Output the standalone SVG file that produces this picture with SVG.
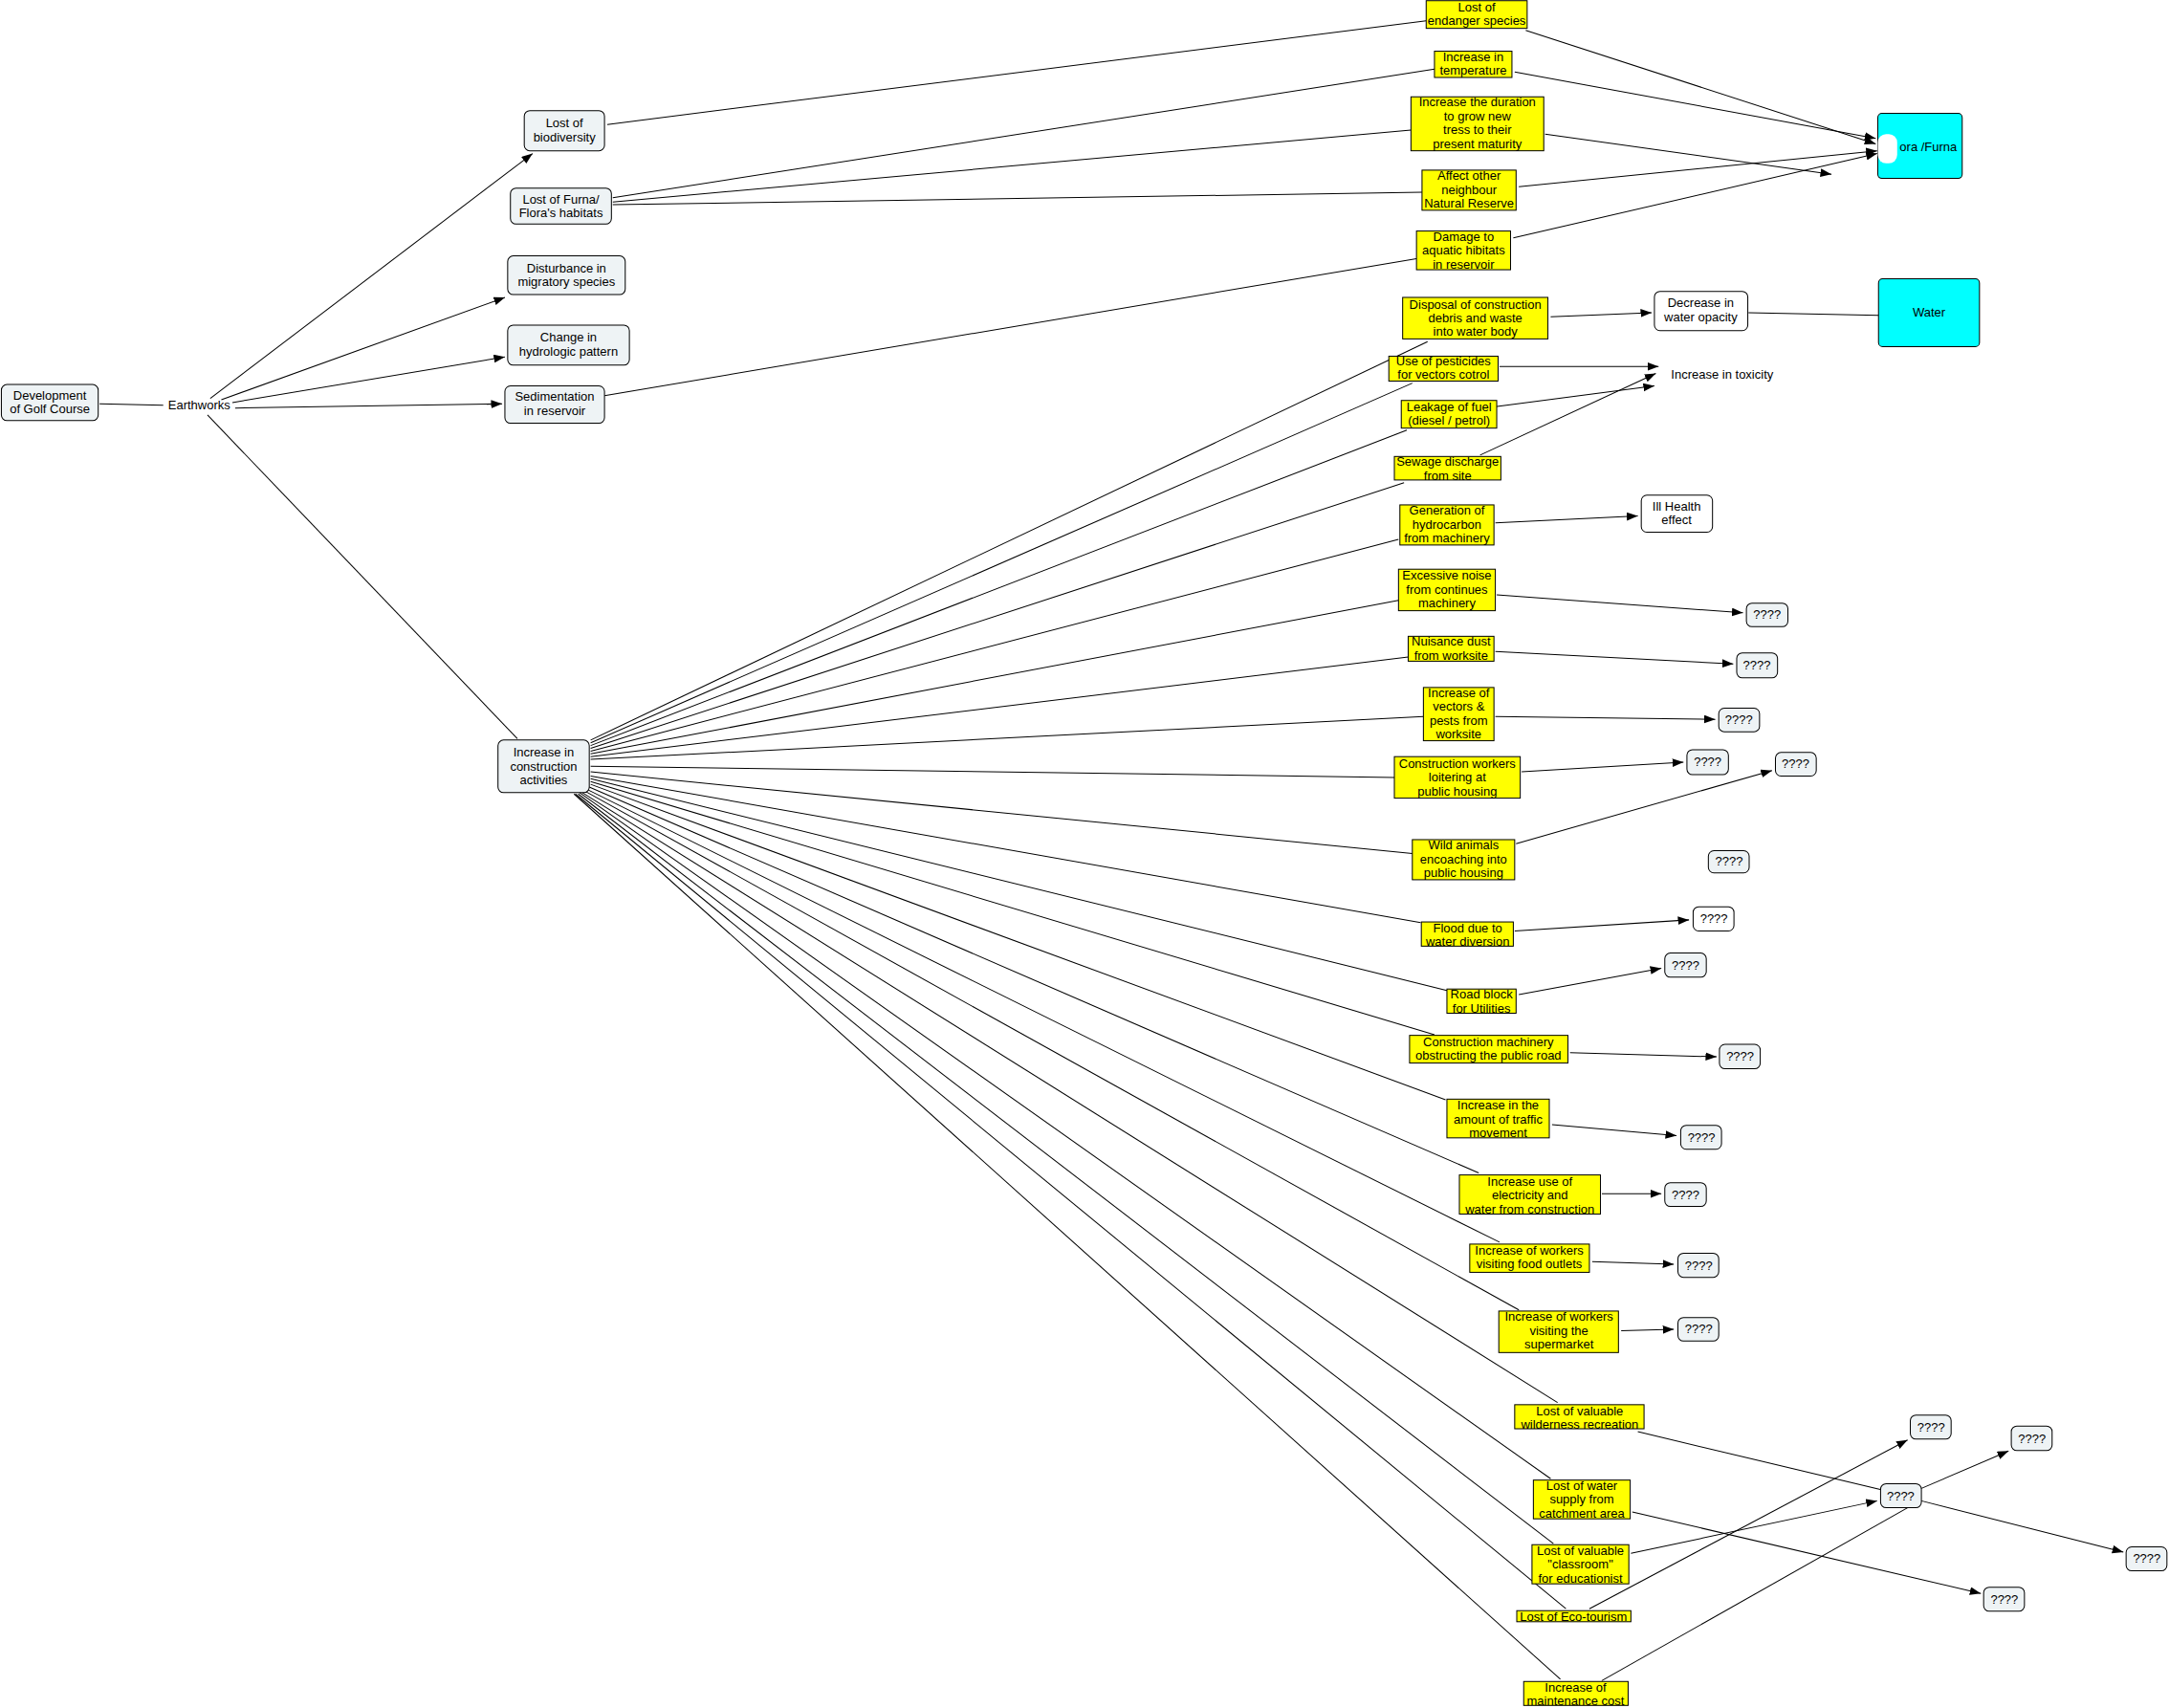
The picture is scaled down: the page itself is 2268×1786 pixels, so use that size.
<svg xmlns="http://www.w3.org/2000/svg" width="2268" height="1786" viewBox="0 0 2268 1786">
<style>
text{font-family:"Liberation Sans",Arial,sans-serif;font-size:9px;fill:#000;text-anchor:middle}
.n{fill:#eef3f5;stroke:#000;stroke-width:0.7}
.w{fill:#fff;stroke:#000;stroke-width:0.7}
.y{fill:#ffff00;stroke:#000;stroke-width:0.7}
.c{fill:#00ffff;stroke:#000;stroke-width:0.7}
#edges line{stroke:#000;stroke-width:0.7}
.a{marker-end:url(#ah)}
</style>
<defs>
<marker id="ah" markerUnits="userSpaceOnUse" markerWidth="9" markerHeight="7" refX="8" refY="3" orient="auto"><path d="M0,0 L8,3 L0,6 z" fill="#000"/></marker>
</defs>
<rect width="2268" height="1786" fill="#fff"/>
<g transform="scale(1.44643)">
<g id="edges">
<line x1="72" y1="292" x2="118" y2="293"/>
<line class="a" x1="152" y1="288" x2="385" y2="111"/>
<line class="a" x1="160" y1="289" x2="365" y2="215"/>
<line class="a" x1="168" y1="291" x2="365" y2="258"/>
<line class="a" x1="170" y1="295" x2="363" y2="292"/>
<line x1="150" y1="300" x2="374" y2="534"/>
<line x1="439" y1="90" x2="1031" y2="15"/>
<line x1="443" y1="143" x2="1037" y2="50"/>
<line x1="443" y1="146" x2="1020" y2="94"/>
<line x1="443" y1="148" x2="1028" y2="139"/>
<line x1="437" y1="286" x2="1024" y2="187"/>
<line class="a" x1="1103" y1="22" x2="1356" y2="104"/>
<line class="a" x1="1095" y1="52" x2="1356" y2="100"/>
<line class="a" x1="1117" y1="97" x2="1324" y2="126"/>
<line class="a" x1="1098" y1="135" x2="1357" y2="109"/>
<line class="a" x1="1094" y1="172" x2="1357" y2="111"/>
<line class="a" x1="1121" y1="229" x2="1194" y2="226"/>
<line x1="1264" y1="226" x2="1358" y2="228"/>
<line class="a" x1="1084" y1="265" x2="1199" y2="265"/>
<line class="a" x1="1081" y1="294" x2="1196" y2="279"/>
<line class="a" x1="1070" y1="329" x2="1197" y2="270"/>
<line class="a" x1="1081" y1="378" x2="1184" y2="373"/>
<line class="a" x1="1082" y1="430" x2="1260" y2="443"/>
<line class="a" x1="1081" y1="471" x2="1253" y2="480"/>
<line class="a" x1="1081" y1="518" x2="1240" y2="520"/>
<line class="a" x1="1100" y1="558" x2="1217" y2="551"/>
<line class="a" x1="1096" y1="610" x2="1281" y2="557"/>
<line class="a" x1="1095" y1="673" x2="1221" y2="665"/>
<line class="a" x1="1098" y1="719" x2="1201" y2="700"/>
<line class="a" x1="1135" y1="761" x2="1241" y2="764"/>
<line class="a" x1="1122" y1="813" x2="1212" y2="821"/>
<line class="a" x1="1158" y1="863" x2="1201" y2="863"/>
<line class="a" x1="1151" y1="912" x2="1210" y2="914"/>
<line class="a" x1="1172" y1="962" x2="1210" y2="961"/>
<line x1="1184" y1="1035" x2="1360" y2="1077"/>
<line class="a" x1="1389" y1="1085" x2="1535" y2="1122"/>
<line class="a" x1="1180" y1="1093" x2="1432" y2="1152"/>
<line class="a" x1="1179" y1="1123" x2="1357" y2="1085"/>
<line class="a" x1="1149" y1="1163" x2="1379" y2="1041"/>
<line x1="1158" y1="1215" x2="1379" y2="1090"/>
<line class="a" x1="1389" y1="1076" x2="1452" y2="1049"/>
<line x1="427" y1="535" x2="1032" y2="247"/>
<line x1="427" y1="537" x2="1021" y2="277"/>
<line x1="427" y1="539" x2="1017" y2="311"/>
<line x1="427" y1="541" x2="1015" y2="349"/>
<line x1="427" y1="543" x2="1011" y2="390"/>
<line x1="427" y1="545" x2="1011" y2="434"/>
<line x1="427" y1="547" x2="1018" y2="475"/>
<line x1="427" y1="549" x2="1029" y2="518"/>
<line x1="427" y1="554" x2="1008" y2="562"/>
<line x1="427" y1="558" x2="1021" y2="617"/>
<line x1="427" y1="561" x2="1027" y2="667"/>
<line x1="427" y1="563" x2="1046" y2="716"/>
<line x1="427" y1="565" x2="1037" y2="748"/>
<line x1="427" y1="567" x2="1045" y2="795"/>
<line x1="426" y1="569" x2="1069" y2="848"/>
<line x1="425" y1="571" x2="1084" y2="898"/>
<line x1="423" y1="572" x2="1098" y2="947"/>
<line x1="421" y1="573" x2="1126" y2="1014"/>
<line x1="419" y1="573" x2="1121" y2="1069"/>
<line x1="418" y1="574" x2="1123" y2="1116"/>
<line x1="416" y1="574" x2="1132" y2="1163"/>
<line x1="415" y1="574" x2="1128" y2="1214"/>
</g>
<g id="dev"><rect class="n" x="1" y="278" width="70" height="26" rx="4"/><text x="36" y="289">Development</text><text x="36" y="299">of Golf Course</text></g>
<g id="earthworks"><text x="144" y="296">Earthworks</text></g>
<g id="biodiv"><rect class="n" x="379" y="80" width="58" height="29" rx="4"/><text x="408" y="92">Lost of</text><text x="408" y="102">biodiversity</text></g>
<g id="habitats"><rect class="n" x="369" y="136" width="73" height="26" rx="4"/><text x="405.5" y="147">Lost of Furna/</text><text x="405.5" y="157">Flora's habitats</text></g>
<g id="migratory"><rect class="n" x="367" y="185" width="85" height="28" rx="4"/><text x="409.5" y="197">Disturbance in</text><text x="409.5" y="207">migratory species</text></g>
<g id="hydro"><rect class="n" x="367" y="235" width="88" height="29" rx="4"/><text x="411" y="247">Change in</text><text x="411" y="257">hydrologic pattern</text></g>
<g id="sediment"><rect class="n" x="365" y="279" width="72" height="27" rx="4"/><text x="401" y="290">Sedimentation</text><text x="401" y="300">in reservoir</text></g>
<g id="construction"><rect class="n" x="360" y="535" width="66" height="38" rx="4"/><text x="393" y="547">Increase in</text><text x="393" y="557">construction</text><text x="393" y="567">activities</text></g>

<g id="endanger"><rect class="y" x="1031" y="0.5" width="73" height="20"/><text x="1067.5" y="8">Lost of</text><text x="1067.5" y="18">endanger species</text></g>
<g id="temp"><rect class="y" x="1037" y="37" width="56" height="19"/><text x="1065" y="44">Increase in</text><text x="1065" y="54">temperature</text></g>
<g id="duration"><rect class="y" x="1020" y="70" width="96" height="39"/><text x="1068" y="77">Increase the duration</text><text x="1068" y="87">to grow new</text><text x="1068" y="97">tress to their</text><text x="1068" y="107">present maturity</text></g>
<g id="affect"><rect class="y" x="1028" y="123" width="68" height="29"/><text x="1062" y="130">Affect other</text><text x="1062" y="140">neighbour</text><text x="1062" y="150">Natural Reserve</text></g>
<g id="damage"><rect class="y" x="1024" y="167" width="68" height="28"/><text x="1058" y="174">Damage to</text><text x="1058" y="184">aquatic hibitats</text><text x="1058" y="194">in reservoir</text></g>
<g id="disposal"><rect class="y" x="1014" y="215" width="105" height="30"/><text x="1066.5" y="223">Disposal of construction</text><text x="1066.5" y="233">debris and waste</text><text x="1066.5" y="243">into water body</text></g>
<g id="pesticides"><rect class="y" x="1004" y="257.5" width="79" height="18"/><text x="1043.5" y="264">Use of pesticides</text><text x="1043.5" y="274">for vectors cotrol</text></g>
<g id="leakage"><rect class="y" x="1013" y="289.5" width="69" height="20"/><text x="1047.5" y="297">Leakage of fuel</text><text x="1047.5" y="307">(diesel / petrol)</text></g>
<g id="sewage"><rect class="y" x="1008" y="330" width="77" height="17"/><text x="1046.5" y="337">Sewage discharge</text><text x="1046.5" y="347">from site</text></g>
<g id="hydrocarbon"><rect class="y" x="1012" y="365" width="68" height="29"/><text x="1046" y="372">Generation of</text><text x="1046" y="382">hydrocarbon</text><text x="1046" y="392">from machinery</text></g>
<g id="noise"><rect class="y" x="1011" y="411.5" width="70" height="30"/><text x="1046" y="419">Excessive noise</text><text x="1046" y="429">from continues</text><text x="1046" y="439">machinery</text></g>
<g id="dust"><rect class="y" x="1018" y="460" width="62" height="18"/><text x="1049" y="467">Nuisance dust</text><text x="1049" y="477">from worksite</text></g>
<g id="vectors"><rect class="y" x="1029" y="497" width="51" height="38.5"/><text x="1054.5" y="504">Increase of</text><text x="1054.5" y="514">vectors &amp;</text><text x="1054.5" y="524">pests from</text><text x="1054.5" y="534">worksite</text></g>
<g id="loitering"><rect class="y" x="1008" y="547" width="91" height="30"/><text x="1053.5" y="555">Construction workers</text><text x="1053.5" y="565">loitering at</text><text x="1053.5" y="575">public housing</text></g>
<g id="wild"><rect class="y" x="1021" y="607" width="74" height="29"/><text x="1058" y="614">Wild animals</text><text x="1058" y="624">encoaching into</text><text x="1058" y="634">public housing</text></g>
<g id="flood"><rect class="y" x="1027.5" y="666.5" width="66.5" height="17.5"/><text x="1061" y="674">Flood due to</text><text x="1061" y="684">water diversion</text></g>
<g id="road"><rect class="y" x="1046" y="715" width="50" height="17.5"/><text x="1071" y="722">Road block</text><text x="1071" y="732">for Utilities</text></g>
<g id="machinery"><rect class="y" x="1019" y="748.5" width="114.5" height="20"/><text x="1076" y="756">Construction machinery</text><text x="1076" y="766">obstructing the public road</text></g>
<g id="traffic"><rect class="y" x="1046" y="794.6" width="74" height="28"/><text x="1083" y="802">Increase in the</text><text x="1083" y="812">amount of traffic</text><text x="1083" y="822">movement</text></g>
<g id="electricity"><rect class="y" x="1055" y="849.4" width="102" height="28.3"/><text x="1106" y="857">Increase use of</text><text x="1106" y="867">electricity and</text><text x="1106" y="877">water from construction</text></g>
<g id="food"><rect class="y" x="1062.5" y="899.4" width="86.5" height="20.4"/><text x="1105.5" y="907">Increase of workers</text><text x="1105.5" y="917">visiting food outlets</text></g>
<g id="supermarket"><rect class="y" x="1083.5" y="947.8" width="86.5" height="30"/><text x="1127" y="955">Increase of workers</text><text x="1127" y="965">visiting the</text><text x="1127" y="975">supermarket</text></g>
<g id="wilderness"><rect class="y" x="1095" y="1015.5" width="93.5" height="17.4"/><text x="1142" y="1023">Lost of valuable</text><text x="1142" y="1033">wilderness recreation</text></g>
<g id="watersupply"><rect class="y" x="1108.5" y="1070" width="70" height="28"/><text x="1143.5" y="1077">Lost of water</text><text x="1143.5" y="1087">supply from</text><text x="1143.5" y="1097">catchment area</text></g>
<g id="classroom"><rect class="y" x="1107.5" y="1116.7" width="70" height="28.3"/><text x="1142.5" y="1124">Lost of valuable</text><text x="1142.5" y="1134">"classroom"</text><text x="1142.5" y="1144">for educationist</text></g>
<g id="ecotourism"><rect class="y" x="1096.5" y="1164.4" width="82.5" height="8"/><text x="1137.5" y="1172">Lost of Eco-tourism</text></g>
<g id="maintenance"><rect class="y" x="1101.5" y="1215.6" width="75.5" height="17.3"/><text x="1139" y="1223">Increase of</text><text x="1139" y="1233">maintenance cost</text></g>

<g id="flora"><rect class="c" x="1357.5" y="82" width="61" height="47" rx="3"/><text x="1394" y="109">ora /Furna</text><rect x="1357.5" y="97" width="14" height="21" rx="6" fill="#fff"/></g>
<g id="water"><rect class="c" x="1358" y="201.6" width="73" height="49" rx="3"/><text x="1394.5" y="229">Water</text></g>
<g id="opacity"><rect class="w" x="1196" y="210.7" width="67.5" height="28.3" rx="4"/><text x="1229.5" y="222">Decrease in</text><text x="1229.5" y="232">water opacity</text></g>
<g id="toxicity"><text x="1245" y="274">Increase in toxicity</text></g>
<g id="illhealth"><rect class="w" x="1186.5" y="358" width="51.5" height="26.7" rx="4"/><text x="1212" y="369">Ill Health</text><text x="1212" y="379">effect</text></g>

<g id="q1"><rect class="n" x="1262.5" y="436" width="30" height="17" rx="4"/><text x="1277.5" y="447.5">????</text></g>
<g id="q2"><rect class="n" x="1255.5" y="472" width="29.5" height="18" rx="4"/><text x="1270" y="484">????</text></g>
<g id="q3"><rect class="n" x="1242.5" y="512" width="29.5" height="17" rx="4"/><text x="1257" y="523.5">????</text></g>
<g id="q4"><rect class="n" x="1219.5" y="542" width="30" height="18" rx="4"/><text x="1234.5" y="554">????</text></g>
<g id="q5"><rect class="n" x="1283.5" y="544" width="29.5" height="17" rx="4"/><text x="1298" y="555.5">????</text></g>
<g id="q6"><rect class="n" x="1235" y="615" width="29.5" height="16" rx="4"/><text x="1250" y="626">????</text></g>
<g id="q7"><rect class="w" x="1224" y="655.6" width="29.5" height="17.4" rx="4"/><text x="1239" y="667.5">????</text></g>
<g id="q8"><rect class="n" x="1203.5" y="689" width="30" height="17.4" rx="4"/><text x="1218.5" y="701">????</text></g>
<g id="q9"><rect class="n" x="1243" y="755" width="29.5" height="17.6" rx="4"/><text x="1258" y="767">????</text></g>
<g id="q10"><rect class="n" x="1215" y="813.5" width="29.5" height="17.3" rx="4"/><text x="1230" y="825.5">????</text></g>
<g id="q11"><rect class="n" x="1203.5" y="855" width="30" height="17.2" rx="4"/><text x="1218.5" y="867">????</text></g>
<g id="q12"><rect class="n" x="1213" y="906" width="29.5" height="17.4" rx="4"/><text x="1228" y="918">????</text></g>
<g id="q13"><rect class="n" x="1213" y="952.5" width="29.5" height="17" rx="4"/><text x="1228" y="964">????</text></g>
<g id="q14"><rect class="n" x="1381" y="1023" width="29.5" height="17.4" rx="4"/><text x="1396" y="1035">????</text></g>
<g id="q15"><rect class="n" x="1454" y="1031" width="29.5" height="17.6" rx="4"/><text x="1469" y="1043">????</text></g>
<g id="q16"><rect class="n" x="1359.5" y="1072.6" width="29.5" height="17.4" rx="4"/><text x="1374" y="1084.5">????</text></g>
<g id="q17"><rect class="n" x="1537" y="1118.3" width="29.5" height="17.3" rx="4"/><text x="1552" y="1130">????</text></g>
<g id="q18"><rect class="n" x="1434" y="1147.5" width="29.5" height="17.3" rx="4"/><text x="1449" y="1159.5">????</text></g>
</g>
</svg>
